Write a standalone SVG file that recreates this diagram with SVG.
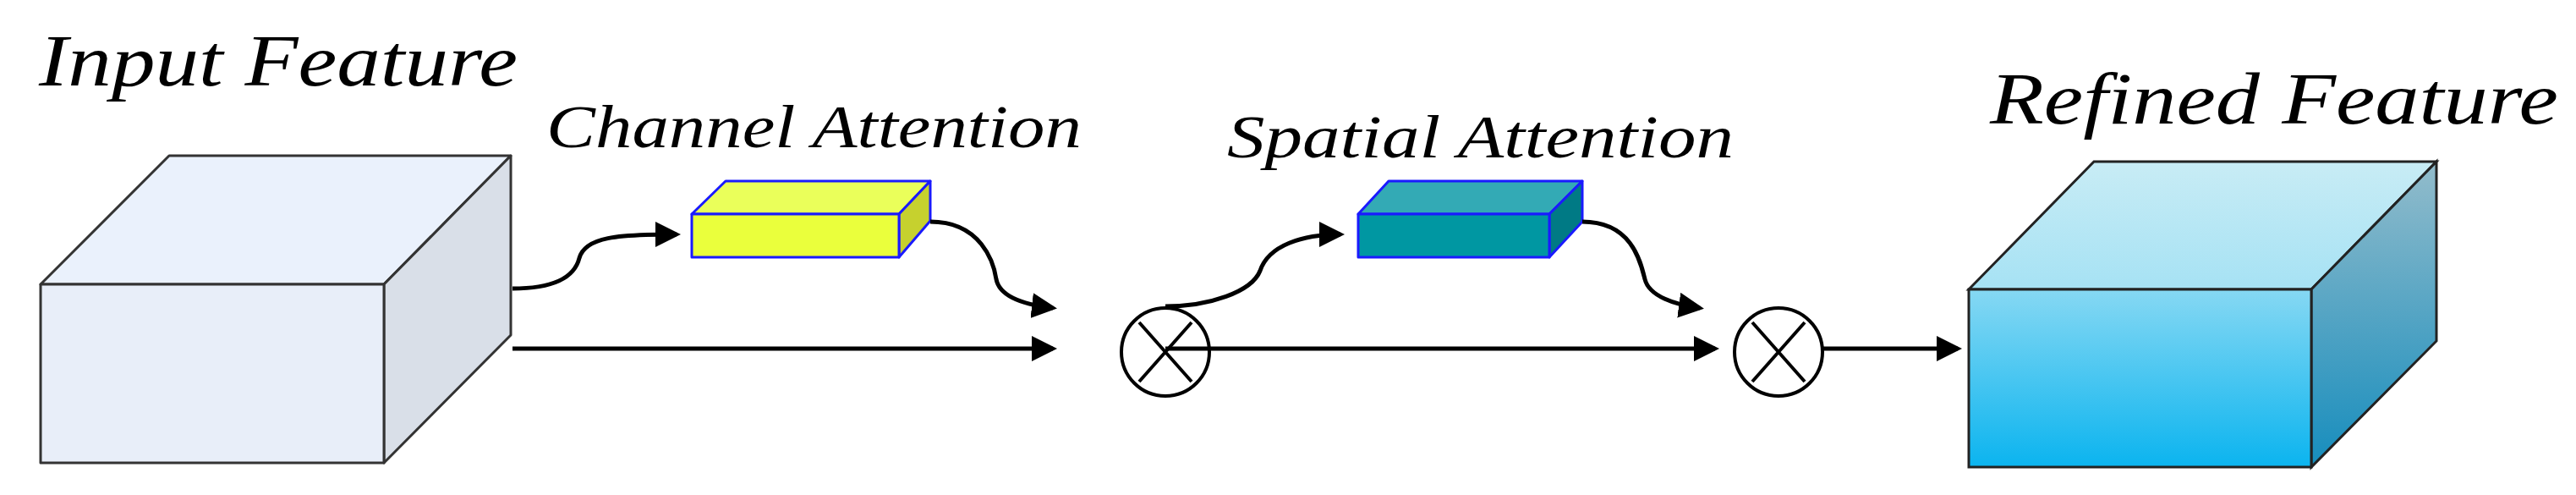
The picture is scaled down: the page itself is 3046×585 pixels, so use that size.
<svg xmlns="http://www.w3.org/2000/svg" width="3046" height="585" viewBox="0 0 3046 585">
<style>
.t{font-family:"Liberation Serif","DejaVu Serif",serif;font-style:italic;fill:#000}
.edge{stroke:#333;stroke-width:3;stroke-linejoin:round}
.att{stroke:#1a1aff;stroke-width:3;stroke-linejoin:round}
.c{fill:none;stroke:#000;stroke-width:5}
.x{fill:#fff;stroke:#000;stroke-width:4}
</style>
<defs>
<marker id="ah" markerWidth="6" markerHeight="6" refX="5" refY="3" orient="auto" markerUnits="strokeWidth"><path d="M0,0 L6,3 L0,6 Z" fill="#000"/></marker>
<linearGradient id="rf" x1="0" y1="0" x2="0" y2="1"><stop offset="0" stop-color="#86d8f3"/><stop offset="1" stop-color="#0bb4ef"/></linearGradient>
<linearGradient id="rt" x1="0" y1="0" x2="0" y2="1"><stop offset="0" stop-color="#c8ecf5"/><stop offset="1" stop-color="#a6e2f4"/></linearGradient>
<linearGradient id="rs" x1="0" y1="0" x2="0" y2="1"><stop offset="0" stop-color="#93bccb"/><stop offset="1" stop-color="#168dbd"/></linearGradient>
</defs>
<g id="input">
<polygon class="edge" points="48,336 200,184 604,184 454,336" fill="#eaf1fc"/>
<polygon class="edge" points="454,336 604,184 604,396 454,547" fill="#d9dfe8"/>
<rect class="edge" x="48" y="336" width="406" height="211" fill="#e8eef9"/>
<text class="t" x="46" y="101" font-size="86" textLength="566" lengthAdjust="spacingAndGlyphs">Input Feature</text>
</g>
<g id="channel">
<polygon class="att" points="818,253 858,214 1100,214 1063,253" fill="#eaff5a"/>
<polygon class="att" points="1063,253 1100,214 1100,261 1063,304" fill="#c6d12e"/>
<rect class="att" x="818" y="253" width="245" height="51" fill="#eaff3c"/>
<text class="t" x="646" y="174" font-size="72" textLength="633" lengthAdjust="spacingAndGlyphs">Channel Attention</text>
</g>
<g id="spatial">
<polygon class="att" points="1606,253 1642,214 1871,214 1832,253" fill="#33aab5"/>
<polygon class="att" points="1832,253 1871,214 1871,262 1832,304" fill="#007a85"/>
<rect class="att" x="1606" y="253" width="226" height="51" fill="#0097a2"/>
<text class="t" x="1451" y="186" font-size="72" textLength="599" lengthAdjust="spacingAndGlyphs">Spatial Attention</text>
</g>
<g id="mul1"><circle class="x" cx="1378" cy="416" r="52"/><path d="M1347,381 L1409,451 M1409,381 L1347,451" stroke="#000" stroke-width="4"/></g>
<g id="mul2"><circle class="x" cx="2103" cy="416" r="52"/><path d="M2072,381 L2134,451 M2134,381 L2072,451" stroke="#000" stroke-width="4"/></g>
<g id="refined">
<polygon points="2328,342 2476,191 2881,191 2733,342" fill="url(#rt)" stroke="#222" stroke-width="3"/>
<polygon points="2733,342 2881,191 2881,403 2733,552" fill="url(#rs)" stroke="#222" stroke-width="3"/>
<rect x="2328" y="342" width="405" height="210" fill="url(#rf)" stroke="#222" stroke-width="3"/>
<text class="t" x="2353" y="146" font-size="86" textLength="672" lengthAdjust="spacingAndGlyphs">Refined Feature</text>
</g>
<g id="connectors">
<path class="c" marker-end="url(#ah)" d="M606,341 C660,341 680,325 685,305 C692,280 730,277 800,277"/>
<path class="c" marker-end="url(#ah)" d="M1100,262 C1160,262 1175,310 1178,330 C1182,350 1210,360 1245,364"/>
<path class="c" marker-end="url(#ah)" d="M606,412 L1245,412"/>
<path class="c" marker-end="url(#ah)" d="M1378,362 C1430,362 1480,345 1490,320 C1500,290 1540,277 1585,277"/>
<path class="c" marker-end="url(#ah)" d="M1871,262 C1930,262 1940,310 1945,330 C1950,350 1980,360 2010,364"/>
<path class="c" marker-end="url(#ah)" d="M1378,412 L2028,412"/>
<path class="c" marker-end="url(#ah)" d="M2155,412 L2315,412"/>
</g>
</svg>
